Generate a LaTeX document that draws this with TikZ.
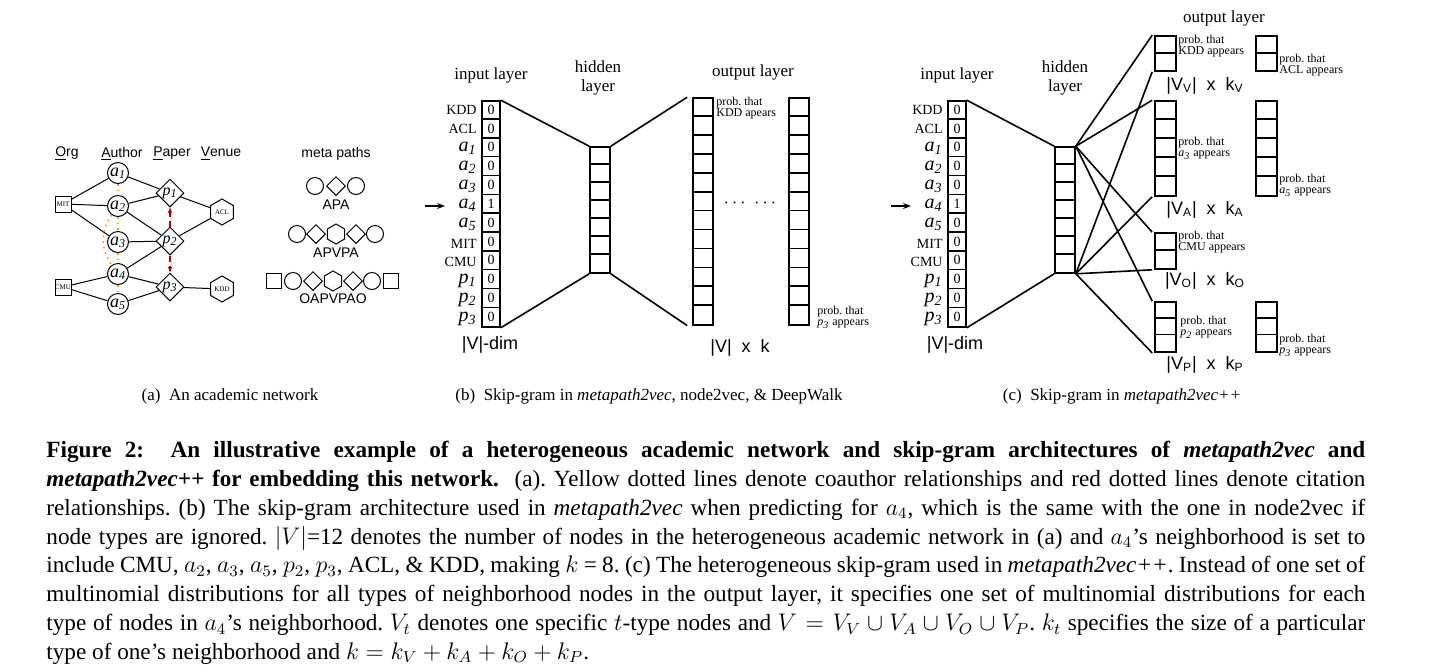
\documentclass[tikz,border=0pt]{standalone}
\usepackage{fontspec}
\setmainfont{Liberation Serif}
\setsansfont{Liberation Sans}
\usetikzlibrary{shapes.geometric,arrows.meta}
\newcommand\mycol[6]{% name, xleft, ytop, ncells, cellh, width (units)
  \node[colbox, minimum width={#6*0.5pt}, minimum height={#4*#5*0.5pt}] (#1) at ({#2+#6/2},{#3+#4*#5/2}) {};
  \pgfmathtruncatemacro\mycolm{#4-1}
  \ifnum\mycolm>0
  \foreach \k in {1,...,\mycolm} \draw[thick] ($(#1.north west)+(0,\k*#5)$) -- ++(#6,0);
  \fi}
\usetikzlibrary{calc}
\begin{document}
\frenchspacing
\begin{tikzpicture}[x=0.5pt,y=-0.5pt,
  colbox/.style={draw, line width=0.8pt, inner sep=0pt},
  thick/.style={line width=0.8pt},
  conn/.style={line width=0.8pt},
  lay/.style={font=\fontsize{8.5}{9.5}\selectfont, align=center},
  dimlab/.style={font=\sffamily\fontsize{9}{10}\selectfont},
  lab/.style={font=\fontsize{7}{8}\selectfont, anchor=east, inner sep=0pt},
  alab/.style={font=\fontsize{10}{11}\selectfont\itshape, anchor=east, inner sep=0pt},
  prob/.style={font=\fontsize{6}{5.5}\selectfont, align=left, anchor=north west, inner sep=0pt},
  cellnum/.style={font=\fontsize{7}{8}\selectfont, inner sep=0pt},
  auth/.style={draw, circle, minimum size=10.5pt, inner sep=0pt, line width=0.5pt, font=\fontsize{9}{9}\selectfont\itshape},
  pap/.style={draw, diamond, minimum size=14pt, inner sep=0pt, line width=0.5pt, font=\fontsize{8}{8}\selectfont\itshape},
  ven/.style={draw, regular polygon, regular polygon sides=6, shape border rotate=90, minimum size=13pt, inner sep=0pt, line width=0.5pt, font=\fontsize{3.5}{4}\selectfont},
  org/.style={draw, rectangle, minimum size=8pt, inner sep=0pt, line width=0.5pt, font=\fontsize{3.5}{4}\selectfont},
  ed/.style={line width=0.5pt},
  coa/.style={line width=0.8pt, dotted, color=orange!80!yellow},
  cit/.style={line width=0.6pt, densely dashed, color=red!70!black, -{Stealth[length=3pt]}},
  mp/.style={font=\sffamily\fontsize{7}{8}\selectfont},
  sub/.style={font=\fontsize{8.5}{10}\selectfont},
  mpc/.style={draw,circle,minimum size=8.5pt,line width=0.5pt,inner sep=0pt},
  mpd/.style={draw,diamond,minimum size=9.5pt,line width=0.5pt,inner sep=0pt},
  mph/.style={draw,regular polygon,regular polygon sides=6,shape border rotate=90,minimum size=10pt,line width=0.5pt,inner sep=0pt},
  mps/.style={draw,rectangle,minimum size=7.5pt,line width=0.5pt,inner sep=0pt}
]
\useasboundingbox (0,0) rectangle (1440,671);
\fill[white] (0,0) rectangle (1440,671);

% ---------- (a) ----------
\node[mp] (hOrg) at (67,154) {\underline{O}rg};
\node[mp] (hAut) at (122,154) {\underline{A}uthor};
\node[mp] (hPap) at (172,154) {\underline{P}aper};
\node[mp] (hVen) at (221,154) {\underline{V}enue};
\node[auth] (a1) at (118,173) {a\textsubscript{1}};
\node[auth] (a2) at (118,206) {a\textsubscript{2}};
\node[auth] (a3) at (118,242) {a\textsubscript{3}};
\node[auth] (a4) at (118,274) {a\textsubscript{4}};
\node[auth] (a5) at (118,304) {a\textsubscript{5}};
\node[org] (MIT) at (63,204) {MIT};
\node[org] (CMU) at (63,287) {CMU};
\node[pap] (p1) at (170,193) {p\textsubscript{1}};
\node[pap] (p2) at (170,241) {p\textsubscript{2}};
\node[pap] (p3) at (170,287) {p\textsubscript{3}};
\node[ven] (ACL) at (222,212) {ACL};
\node[ven] (KDD) at (222,289) {KDD};
\foreach \u/\v in {MIT/a1,MIT/a2,MIT/a3,CMU/a4,CMU/a5,a1/p1,a2/p1,a2/p2,a3/p2,a4/p2,a4/p3,a5/p3,p1/ACL,p2/ACL,p3/KDD}
  \draw[ed] (\u) -- (\v);
\foreach \u/\v in {a1/a2,a2/a3,a3/a4,a4/a5}
  \draw[coa] (\u) -- (\v);
\draw[coa] (a2) to[bend right=35] (a4);
\draw[cit] (p2) -- (p1);
\draw[cit] (p2) -- (p3);

\node[mp] (mphd) at (336,154) {meta paths};
\node[mpc] (m1) at (315,186) {};
\node[mpd] (m2) at (336,186) {};
\node[mpc] (m3) at (356,186) {};
\node[mpc] (n1) at (297,234) {};
\node[mpd] (n2) at (316,234) {};
\node[mph] (n3) at (336,234) {};
\node[mpd] (n4) at (356,234) {};
\node[mpc] (n5) at (375,234) {};
\node[mps] (o1) at (274,281) {};
\node[mpc] (o2) at (293,281) {};
\node[mpd] (o3) at (313,281) {};
\node[mph] (o4) at (333,281) {};
\node[mpd] (o5) at (353,281) {};
\node[mpc] (o6) at (372,281) {};
\node[mps] (o7) at (391,281) {};
\node[mp] (mpa) at (336,205) {APA};
\node[mp] (mpb) at (336,253) {APVPA};
\node[mp] (mpcl) at (333,299) {OAPVPAO};

% ---------- (b) ----------
\mycol{inb}{482}{101}{12}{18.83}{18}
\mycol{hidb}{590}{147}{7}{18}{20}
\mycol{outb1}{693}{98}{12}{18.9}{20}
\mycol{outb2}{789}{98}{12}{18.9}{20}
\draw[conn] (inb.north east) -- (hidb.north west);
\draw[conn] (inb.south east) -- (hidb.south west);
\draw[conn] (hidb.north east) -- ($(outb1.north west)+(-5,0)$);
\draw[conn] (hidb.south east) -- ($(outb1.south west)+(-5,0)$);
\node[lay] (bin) at (491,75) {input layer};
\node[lay] (bhid) at (598,78) {hidden\\layer};
\node[lay] (bout) at (753,72) {output layer};
\node[dimlab] (bdim) at (490,345) {|V|-dim};
\node[dimlab] (bvk) at (740,348) {|V|\ \ x\ \ k};
\node[font=\fontsize{9}{9}\selectfont\bfseries] (bdots) at (750,203) {$\cdots$\ \ $\cdots$};
\node[prob] (bpk) at (716,97) {prob. that\\KDD apears};
\node[prob] (bpp) at (817,306) {prob. that\\\textit{p\textsubscript{3}} appears};

% ---------- (c) ----------
\mycol{inc}{948}{101}{12}{18.83}{18}
\mycol{hidc}{1055}{147}{7}{18}{20}
\node[lay] (cin) at (957,75) {input layer};
\node[lay] (chid) at (1065,78) {hidden\\layer};
\node[dimlab] (cdim) at (955,345) {|V|-dim};
\draw[conn] (inc.north east) -- (hidc.north west);
\draw[conn] (inc.south east) -- (hidc.south west);
\node[lay] (cout) at (1224,18) {output layer};
\mycol{gV1}{1155}{36}{2}{17.5}{21}
\mycol{gV2}{1256}{36}{2}{17.5}{21}
\mycol{gA1}{1155}{101}{5}{19}{21}
\mycol{gA2}{1256}{101}{5}{19}{21}
\mycol{gO1}{1155}{233}{2}{18}{21}
\mycol{gP1}{1155}{302}{3}{16.7}{21}
\mycol{gP2}{1256}{302}{3}{16.7}{21}
\foreach \g in {gV1,gA1,gO1,gP1} {
  \draw[conn] (hidc.north east) -- ($(\g.north west)+(-2,0)$);
  \draw[conn] (hidc.south east) -- ($(\g.south west)+(-2,0)$);
}
\node[dimlab] (lV) at (1205,86) {|V\textsubscript{V}|\ \ x\ \ k\textsubscript{V}};
\node[dimlab] (lA) at (1205,210) {|V\textsubscript{A}|\ \ x\ \ k\textsubscript{A}};
\node[dimlab] (lO) at (1205,281) {|V\textsubscript{O}|\ \ x\ \ k\textsubscript{O}};
\node[dimlab] (lP) at (1205,365) {|V\textsubscript{P}|\ \ x\ \ k\textsubscript{P}};
\node[prob] (cp1) at (1178,35) {prob. that\\KDD appears};
\node[prob] (cp2) at (1279,54) {prob. that\\ACL appears};
\node[prob] (cp3) at (1178,137) {prob. that\\\textit{a\textsubscript{3}} appears};
\node[prob] (cp4) at (1279,174) {prob. that\\\textit{a\textsubscript{5}} appears};
\node[prob] (cp5) at (1178,231) {prob. that\\CMU appears};
\node[prob] (cp6) at (1180,316) {prob. that\\\textit{p\textsubscript{2}} appears};
\node[prob] (cp7) at (1279,334) {prob. that\\\textit{p\textsubscript{3}} appears};

% input labels & values (b and c)
\foreach \col/\lx in {inb/477,inc/943} {
  \foreach \t/\v [count=\i from 0] in {KDD/0,ACL/0,a1/0,a2/0,a3/0,a4/1,a5/0,MIT/0,CMU/0,p1/0,p2/0,p3/0} {
    \node[cellnum] at ($(\col.north)+(0,18.83*\i+9.4)$) {\v};
  }
  \node[lab] at (\lx,110.4) {KDD};
  \node[lab] at (\lx,129.2) {ACL};
  \node[lab] at (\lx,243.5) {MIT};
  \node[lab] at (\lx,262.3) {CMU};
  \foreach \s/\yy in {1/148,2/167,3/186,4/205,5/224} \node[alab] at (\lx,\yy) {a\textsubscript{\s}};
  \foreach \s/\yy in {1/281,2/300,3/319} \node[alab] at (\lx,\yy) {p\textsubscript{\s}};
}
\coordinate (arb1) at (425,206); \coordinate (arb2) at (445,206);
\draw[line width=0.7pt,-{Stealth[length=4pt]}] (arb1) -- (arb2);
\coordinate (arc1) at (891,206); \coordinate (arc2) at (911,206);
\draw[line width=0.7pt,-{Stealth[length=4pt]}] (arc1) -- (arc2);

% sub captions
\node[sub] (capa) at (230,396) {(a)\ \ An academic network};
\node[sub] (capb) at (649,396) {(b)\ \ Skip-gram in \textit{metapath2vec}, node2vec, \& DeepWalk};
\node[sub] (capc) at (1122,396) {(c)\ \ Skip-gram in \textit{metapath2vec++}};

% main caption
\node[anchor=north west, inner sep=0pt, text width=659.5pt, align=justify, font=\fontsize{11.6}{14.4}\selectfont] (cap) at (46,441) {%
\textbf{Figure 2:\ \ An illustrative example of a heterogeneous academic network and skip-gram architectures of \textit{metapath2vec} and}\linebreak
\textbf{\textit{metapath2vec++} for embedding this network.}\ \ (a). Yellow dotted lines denote coauthor relationships and red dotted lines denote citation\linebreak
relationships. (b) The skip-gram architecture used in \textit{metapath2vec} when predicting for $a_4$, which is the same with the one in node2vec if\linebreak
node types are ignored. $|V|$=12 denotes the number of nodes in the heterogeneous academic network in (a) and $a_4$'s neighborhood is set to\linebreak
include CMU, $a_2$, $a_3$, $a_5$, $p_2$, $p_3$, ACL, \& KDD, making $k$ = 8. (c) The heterogeneous skip-gram used in \textit{metapath2vec++}. Instead of one set of\linebreak
multinomial distributions for all types of neighborhood nodes in the output layer, it specifies one set of multinomial distributions for each\linebreak
type of nodes in $a_4$'s neighborhood. $V_t$ denotes one specific $t$-type nodes and $V = V_V \cup V_A \cup V_O \cup V_P$. $k_t$ specifies the size of a particular\linebreak
type of one's neighborhood and $k = k_V + k_A + k_O + k_P$.};
\end{tikzpicture}
\end{document}
